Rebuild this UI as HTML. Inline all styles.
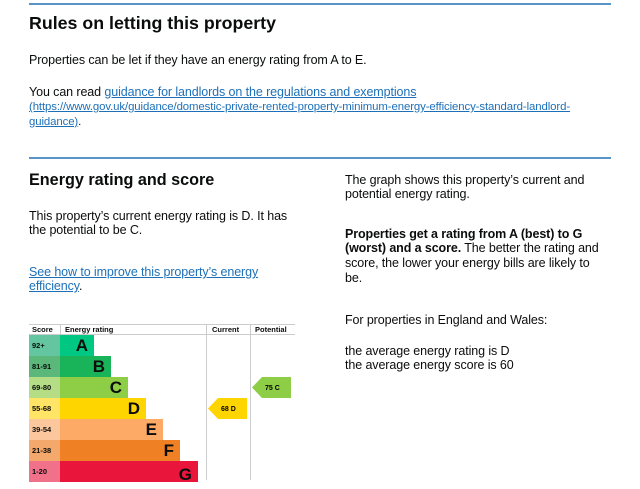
<!DOCTYPE html>
<html><head><style>
body{margin:0;width:640px;height:480px;overflow:hidden;background:#fff;font-family:"Liberation Sans",sans-serif;color:#0b0c0c;position:relative}
.t{position:absolute;font-size:12.5px;line-height:14px;white-space:nowrap;letter-spacing:-0.1px}
.h{position:absolute;font-size:17.8px;font-weight:bold;white-space:nowrap}
a{color:#1d70b8;text-decoration:underline}
.hr{position:absolute;left:29px;width:582px;height:2px;background:#5694ca}
.c{position:absolute;font-size:7.5px;font-weight:bold;line-height:21px}
.sc{position:absolute;left:29px;width:31px;height:21px;font-size:7.5px;font-weight:bold;line-height:21px;padding-left:3px;box-sizing:border-box}
.bar{position:absolute;left:60px;height:21px;font-size:17px;font-weight:bold;line-height:21px;text-align:right;padding-right:6px;box-sizing:border-box}
</style></head><body>
<div class="hr" style="top:3px"></div>
<div class="h" style="top:13px;left:29px">Rules on letting this property</div>
<div class="t" style="top:53px;left:29px">Properties can be let if they have an energy rating from A to E.</div>
<div class="t" style="top:85px;left:29px">You can read <a>guidance for landlords on the regulations and exemptions</a></div>
<div class="t" style="top:100px;left:29px;font-size:11.4px"><a>(https://www.gov.uk/guidance/domestic-private-rented-property-minimum-energy-efficiency-standard-landlord-</a></div>
<div class="t" style="top:115px;left:29px;font-size:11.4px"><a>guidance)</a>.</div>
<div class="hr" style="top:157px"></div>
<div class="h" style="top:171px;left:29px;font-size:16.2px">Energy rating and score</div>
<div class="t" style="top:209px;left:29px">This property’s current energy rating is D. It has</div>
<div class="t" style="top:223px;left:29px">the potential to be C.</div>
<div class="t" style="top:265px;left:29px"><a>See how to improve this property’s energy</a></div>
<div class="t" style="top:279px;left:29px"><a>efficiency</a>.</div>
<div class="t" style="top:173px;left:345px">The graph shows this property’s current and</div>
<div class="t" style="top:187px;left:345px">potential energy rating.</div>
<div class="t" style="top:227px;left:345px"><b>Properties get a rating from A (best) to G</b></div>
<div class="t" style="top:241px;left:345px"><b>(worst) and a score.</b> The better the rating and</div>
<div class="t" style="top:256px;left:345px">score, the lower your energy bills are likely to</div>
<div class="t" style="top:271px;left:345px">be.</div>
<div class="t" style="top:313px;left:345px">For properties in England and Wales:</div>
<div class="t" style="top:344px;left:345px">the average energy rating is D</div>
<div class="t" style="top:358px;left:345px">the average energy score is 60</div>

<div style="position:absolute;left:29px;top:324px;width:266px;height:1px;background:#ccc"></div>
<div style="position:absolute;left:29px;top:334px;width:266px;height:1px;background:#ccc"></div>
<div style="position:absolute;left:206px;top:324px;width:1px;height:156px;background:#ccc"></div>
<div style="position:absolute;left:250px;top:324px;width:1px;height:156px;background:#ccc"></div>
<div style="position:absolute;left:60px;top:324px;width:1px;height:10px;background:#ccc"></div>
<div class="c" style="top:319px;left:32px">Score</div>
<div class="c" style="top:319px;left:65px">Energy rating</div>
<div class="c" style="top:319px;left:212px">Current</div>
<div class="c" style="top:319px;left:255px">Potential</div>

<div class="sc" style="top:335px;background:#63c6a0">92+</div>
<div class="bar" style="top:335px;width:34px;background:#00c781">A</div>
<div class="sc" style="top:356px;background:#5cb87a">81-91</div>
<div class="bar" style="top:356px;width:51px;background:#19b459">B</div>
<div class="sc" style="top:377px;background:#b4dd85">69-80</div>
<div class="bar" style="top:377px;width:68px;background:#8dce46">C</div>
<div class="sc" style="top:398px;background:#ffe466">55-68</div>
<div class="bar" style="top:398px;width:86px;background:#ffd500">D</div>
<div class="sc" style="top:419px;background:#fcc79d">39-54</div>
<div class="bar" style="top:419px;width:103px;background:#fcaa65">E</div>
<div class="sc" style="top:440px;background:#f4a86c">21-38</div>
<div class="bar" style="top:440px;width:120px;background:#ef8023">F</div>
<div class="sc" style="top:461px;background:#f07189">1-20</div>
<div class="bar" style="top:461px;width:138px;background:#e9153b;line-height:28px">G</div>

<svg style="position:absolute;left:0;top:0" width="640" height="480">
<polygon points="208,408.5 218,398 247,398 247,419 218,419" fill="#ffd500"/>
<text x="221" y="411" font-family="Liberation Sans" font-size="7" font-weight="bold">68  D</text>
<polygon points="252,387.5 262,377 291,377 291,398 262,398" fill="#8dce46"/>
<text x="265" y="390" font-family="Liberation Sans" font-size="7" font-weight="bold">75  C</text>
</svg>
</body></html>
